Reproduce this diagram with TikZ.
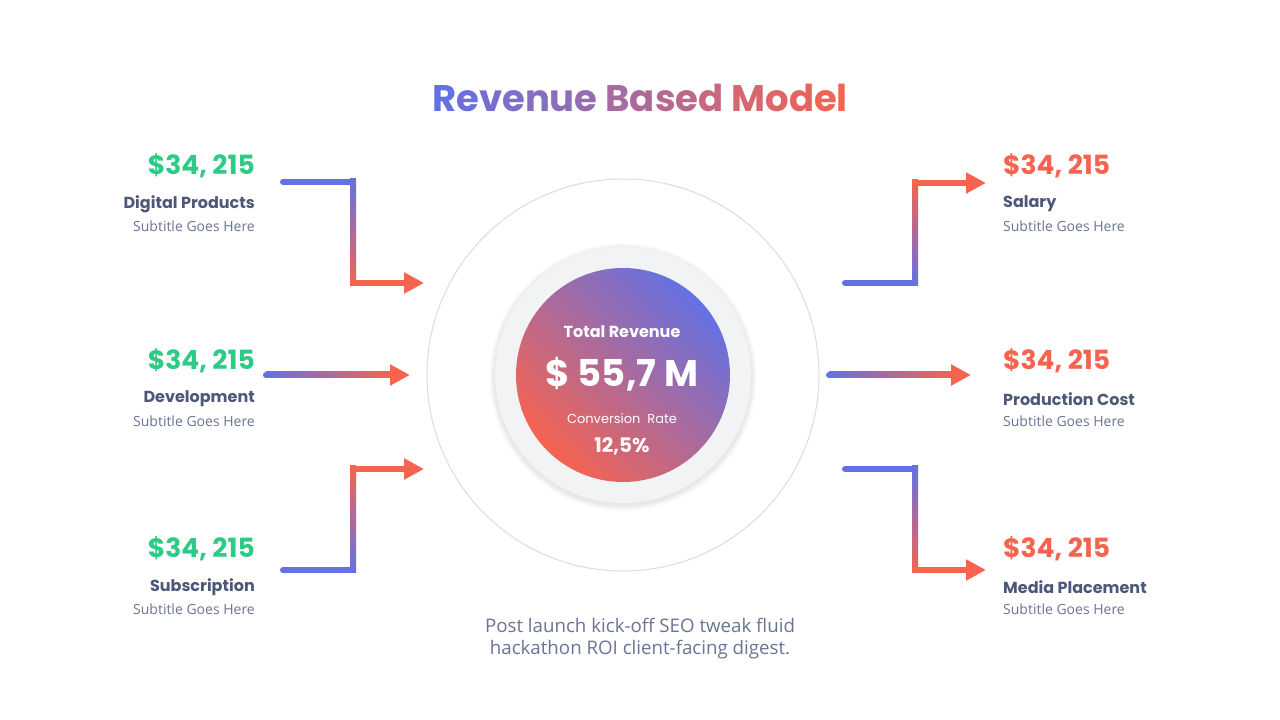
\documentclass[tikz,border=0pt]{standalone}
\usepackage{fontspec}
\setmainfont{Open Sans}
\newfontfamily\pop{Poppins}
\usetikzlibrary{arrows.meta,positioning}

\definecolor{flowblue}{HTML}{6471E3}
\definecolor{flowred}{HTML}{F6634F}
\definecolor{amtgreen}{HTML}{2DCB85}
\definecolor{ttlgray}{HTML}{4D5878}
\definecolor{subgray}{HTML}{6B7494}
\definecolor{ringgray}{HTML}{F2F3F5}
\definecolor{linegray}{HTML}{DADCE0}

\tikzset{
  amount/.style={font=\pop\bfseries\fontsize{26.5}{29}\selectfont, inner sep=0pt},
  itemtitle/.style={font=\pop\bfseries\fontsize{16}{18}\selectfont, text=ttlgray, inner sep=0pt},
  itemsub/.style={font=\fontsize{14}{16}\selectfont, text=subgray, inner sep=0pt},
  flow/.style={line width=6pt, line cap=round},
  arrowhd/.style={line width=6pt, -{Triangle[length=20pt,width=20pt]}},
  centertext/.style={text=white, inner sep=0pt}
}

\begin{document}
\begin{tikzpicture}[x=1pt,y=1pt]
  \fill[white] (0,0) rectangle (1280,720);
  \useasboundingbox (0,0) rectangle (1280,720);

  % title
  \node[font=\pop\bfseries\fontsize{37}{42}\selectfont, inner sep=0pt] (title) at (640,622)
    {\foreach \c [count=\n] in {R,e,v,e,n,u,e,~,B,a,s,e,d,~,M,o,d,e,l}{%
       \pgfmathtruncatemacro\p{100-(\n-1)*100/18}\textcolor{flowblue!\p!flowred}{\c}}};

  % rings
  \draw[linegray, line width=1pt] (623,345) circle (196pt);
  \foreach \r in {128.5,129,...,134}
    \fill[black, opacity=0.009] (623,343) circle (\r pt);
  \fill[ringgray] (623,345) circle (128pt);
  \shade[top color=flowblue, bottom color=flowred, shading angle=-45] (623,345) circle (107pt);

  \node[centertext, font=\pop\bfseries\fontsize{16}{18}\selectfont] (total) at (622,388) {Total Revenue};
  \node[centertext, font=\pop\bfseries\fontsize{37}{40}\selectfont] (value) at (622,346) {\$ 55,7 M};
  \node[centertext, font=\pop\fontsize{13}{15}\selectfont] (conv) at (622,301) {Conversion~ Rate};
  \node[centertext, font=\pop\bfseries\fontsize{20}{22}\selectfont] (rate) at (622,274) {12,5\%};

  % left items
  \foreach \y/\ttl [count=\i] in {554/Digital Products, 359/Development, 171/Subscription} {
    \node[amount, text=amtgreen, anchor=east] (amtL\i) at (255,\y) {\$34, 215};
    \node[itemtitle, anchor=east] (ttlL\i) at (255,\y-38) {\ttl};
    \node[itemsub, anchor=east] (subL\i) at (255,\y-60) {Subtitle Goes Here};
  }
  % right items
  \foreach \y/\ttl [count=\i] in {554/Salary, 359/Production Cost, 171/Media Placement} {
    \node[amount, text=flowred, anchor=west] (amtR\i) at (1003,\y) {\$34, 215};
    \node[itemtitle, anchor=west] (ttlR\i) at (1003,\y-38) {\ttl};
    \node[itemsub, anchor=west] (subR\i) at (1003,\y-60) {Subtitle Goes Here};
  }

  % left arrows
  \draw[flow, flowblue] (283,538) -- (353,538);
  \shade[top color=flowblue, bottom color=flowred] (350,541) rectangle (356,434);
  \draw[arrowhd, flowred] (350,437) -- (424,437);

  \fill[flowblue] (266,345) circle (3pt);
  \shade[left color=flowblue, right color=flowred] (266,342) rectangle (392,348);
  \draw[arrowhd, flowred] (390,345) -- (410,345);

  \draw[flow, flowblue] (283,150) -- (353,150);
  \shade[top color=flowred, bottom color=flowblue] (350,254) rectangle (356,147);
  \draw[arrowhd, flowred] (350,251) -- (424,251);

  % right arrows
  \draw[flow, flowblue] (845,437) -- (915,437);
  \shade[top color=flowred, bottom color=flowblue] (912,540) rectangle (918,434);
  \draw[arrowhd, flowred] (912,537) -- (986,537);

  \fill[flowblue] (829,345) circle (3pt);
  \shade[left color=flowblue, right color=flowred] (829,342) rectangle (953,348);
  \draw[arrowhd, flowred] (951,345) -- (971,345);

  \draw[flow, flowblue] (845,251) -- (915,251);
  \shade[top color=flowblue, bottom color=flowred] (912,254) rectangle (918,147);
  \draw[arrowhd, flowred] (912,150) -- (986,150);

  % footer
  \node[font=\fontsize{18.7}{22}\selectfont, text=subgray, align=center, inner sep=0pt] (note) at (640,81)
    {Post launch kick-off SEO tweak fluid\\hackathon ROI client-facing digest.};
\end{tikzpicture}
\end{document}
